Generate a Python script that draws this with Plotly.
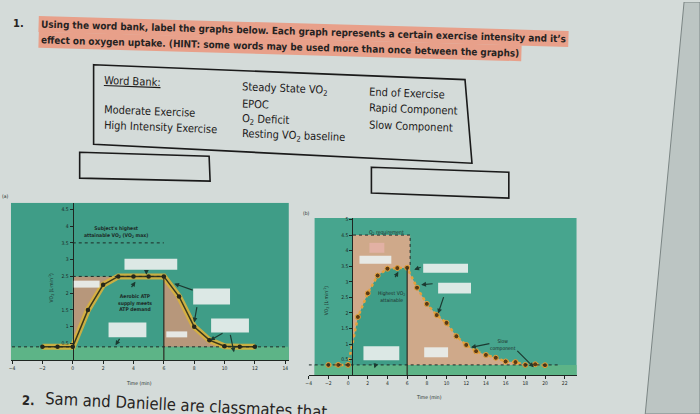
import plotly.graph_objects as go

# values read off the photographed worksheet
# (a) moderate exercise
time_a = [-2, -1, 0, 1, 2, 3, 4, 5, 6, 7, 8, 9, 10, 11, 12]
vo2_a = [0.4, 0.4, 0.4, 1.5, 2.25, 2.5, 2.5, 2.5, 2.5, 1.9, 1.0, 0.6, 0.42, 0.4, 0.4]
rest_a = 0.4
steady_a = 2.5
vo2max_a = 3.5
end_a = 6

# (b) high intensity exercise
time_b = list(range(-2, 21))
vo2_b = [0.33, 0.33, 0.33, 1.87, 2.63, 3.2, 3.42, 3.44, 3.45, 2.81, 2.29, 1.93, 1.68,
         1.25, 0.97, 0.77, 0.65, 0.56, 0.44, 0.42, 0.33, 0.35, 0.32]
rest_b = 0.33
o2_req_b = 4.5
end_b = 6

xticks_a = [-4, -2, 0, 2, 4, 6, 8, 10, 12, 14]
yticks_a = [0.5, 1, 1.5, 2, 2.5, 3, 3.5, 4, 4.5]
xticks_b = [-4, -2, 0, 2, 4, 6, 8, 10, 12, 14, 16, 18, 20, 22]
yticks_b = [0.5, 1, 1.5, 2, 2.5, 3, 3.5, 4, 4.5, 5]

question_1 = ["Using the word bank, label the graphs below. Each graph represents a certain exercise intensity and it\u2019s",
              "effect on oxygen uptake. (HINT: some words may be used more than once between the graphs)"]
bank_col1 = ["Moderate Exercise", "High Intensity Exercise"]
bank_col2 = ["Steady State VO<sub>2</sub>", "EPOC", "O<sub>2</sub> Deficit", "Resting VO<sub>2</sub> baseline"]
bank_col3 = ["End of Exercise", "Rapid Component", "Slow Component"]

PAPER = "#d4dbd9"
TEAL = "#3f9d87"
LIGHT = "#5db487"
TAN_A = "#b7977b"
TAN_B = "#cfa98a"
INK = "#1d2b27"
HAND = "DejaVu Sans Condensed, Liberation Sans, sans-serif"

W, H = 700, 414


def ydom(top_px, bottom_px):
    return [1 - bottom_px / H, 1 - top_px / H]


fig = go.Figure()

# ---------- chart (a) ----------
i_ss = time_a.index(3)
i_end = time_a.index(end_a)
fig.add_trace(go.Scatter(x=time_a[2:i_ss + 1], y=[steady_a] * (i_ss - 1), mode="lines",
                         line=dict(width=0), showlegend=False, hoverinfo="skip"))
fig.add_trace(go.Scatter(x=time_a[2:i_ss + 1], y=vo2_a[2:i_ss + 1], mode="lines", fill="tonexty",
                         fillcolor=TAN_A, line=dict(width=0), showlegend=False, hoverinfo="skip"))
fig.add_trace(go.Scatter(x=time_a[i_end:], y=[rest_a] * len(time_a[i_end:]), mode="lines",
                         line=dict(width=0), showlegend=False, hoverinfo="skip"))
fig.add_trace(go.Scatter(x=time_a[i_end:], y=vo2_a[i_end:], mode="lines", fill="tonexty",
                         fillcolor=TAN_A, line=dict(width=0), showlegend=False, hoverinfo="skip"))
fig.add_trace(go.Scatter(x=time_a, y=vo2_a, mode="lines", line=dict(color="#d9b23c", width=6),
                         opacity=0.9, showlegend=False))
fig.add_trace(go.Scatter(x=time_a, y=vo2_a, mode="lines+markers", line=dict(color="#3a381c", width=1.5),
                         marker=dict(color="#26261a", size=4.5), showlegend=False))

# ---------- chart (b) ----------
i_end_b = time_b.index(end_b)
i0 = time_b.index(0)
fig.add_trace(go.Scatter(x=time_b[i0:i_end_b + 1], y=[rest_b] * (i_end_b - i0 + 1), mode="lines",
                         line=dict(width=0), xaxis="x2", yaxis="y2", showlegend=False, hoverinfo="skip"))
fig.add_trace(go.Scatter(x=time_b[i0:i_end_b + 1], y=vo2_b[i0:i_end_b + 1], mode="lines", fill="tonexty",
                         fillcolor=TEAL, line=dict(width=0), xaxis="x2", yaxis="y2",
                         showlegend=False, hoverinfo="skip"))
fig.add_trace(go.Scatter(x=time_b[i_end_b:], y=[rest_b] * len(time_b[i_end_b:]), mode="lines",
                         line=dict(width=0), xaxis="x2", yaxis="y2", showlegend=False, hoverinfo="skip"))
fig.add_trace(go.Scatter(x=time_b[i_end_b:], y=vo2_b[i_end_b:], mode="lines", fill="tonexty",
                         fillcolor=TAN_B, line=dict(width=0), xaxis="x2", yaxis="y2",
                         showlegend=False, hoverinfo="skip"))
fig.add_trace(go.Scatter(x=time_b, y=vo2_b, mode="lines+markers", xaxis="x2", yaxis="y2",
                         line=dict(color="#e6a23c", width=2.5, dash="dot"),
                         marker=dict(color="#5a3a14", size=5, line=dict(color="#e6a23c", width=1)),
                         showlegend=False))

# empty trace so the full page pixel axes exist
fig.add_trace(go.Scatter(x=[None], y=[None], xaxis="x3", yaxis="y3", showlegend=False))

shapes = []
# panel backgrounds
shapes += [
    dict(type="rect", xref="x", yref="y", x0=-4.1, x1=14.3, y0=0, y1=4.7, fillcolor=TEAL,
         line=dict(width=0), layer="below"),
    dict(type="rect", xref="x", yref="y", x0=-4.1, x1=14.3, y0=0, y1=rest_a, fillcolor=LIGHT,
         line=dict(width=0), layer="below"),
    dict(type="rect", xref="x2", yref="y2", x0=-3.4, x1=23.3, y0=0, y1=5.1, fillcolor="#47a58e",
         line=dict(width=0), layer="below"),
    dict(type="rect", xref="x2", yref="y2", x0=-3.4, x1=23.3, y0=0, y1=rest_b, fillcolor=LIGHT,
         line=dict(width=0), layer="below"),
    dict(type="rect", xref="x2", yref="y2", x0=0.5, x1=end_b + 0.3, y0=rest_b, y1=o2_req_b,
         fillcolor=TAN_B, line=dict(width=0), layer="below"),
]
dash_line = dict(color=INK, width=1, dash="dot")
shapes += [
    dict(type="line", xref="x", yref="y", x0=0, x1=end_a, y0=vo2max_a, y1=vo2max_a, line=dash_line),
    dict(type="line", xref="x", yref="y", x0=0, x1=end_a, y0=steady_a, y1=steady_a, line=dash_line),
    dict(type="line", xref="x", yref="y", x0=-4, x1=14, y0=rest_a, y1=rest_a, line=dash_line),
    dict(type="line", xref="x", yref="y", x0=end_a, x1=end_a, y0=0, y1=steady_a,
         line=dict(color="#2b2b22", width=1.2)),
    dict(type="line", xref="x2", yref="y2", x0=-4, x1=21.5, y0=rest_b, y1=rest_b, line=dash_line),
    dict(type="path", xref="x2", yref="y2",
         path=f"M 0.5 {o2_req_b} L {end_b + 0.3} {o2_req_b} L {end_b + 0.3} 3.5", line=dash_line),
    dict(type="line", xref="x2", yref="y2", x0=end_b, x1=end_b, y0=0, y1=max(vo2_b),
         line=dict(color="#2b2b22", width=1.2)),
]


def poly(pts, **kw):
    p = "M " + " L ".join(f"{x} {y}" for x, y in pts) + " Z"
    return dict(type="path", xref="x3", yref="y3", path=p, **kw)


# page edge on the right
shapes.append(poly([(684, 0), (700, 0), (700, 414), (645, 414)], fillcolor="#bcc5c3",
                   line=dict(color="#7b8584", width=1), layer="below"))
# word bank frame and the two answer boxes
shapes.append(poly([(91, 63), (464, 78), (471, 162), (91, 143)], line=dict(color="#1a1a1a", width=1.6)))
shapes.append(poly([(77, 151), (207, 155), (208, 180), (77, 177)], line=dict(color="#1a1a1a", width=1.6)))
shapes.append(poly([(370, 166), (508, 171), (508, 197), (370, 192)], line=dict(color="#1a1a1a", width=1.6)))

# blank label boxes printed on the graphs
for x0, y0, x1, y1 in [(122, 258, 175, 269), (71, 280, 97, 287), (106, 322, 144, 337),
                       (191, 288, 228, 304), (209, 318, 247, 332), (164, 331, 185, 337),
                       (358, 255, 390, 263), (422, 263, 467, 272), (437, 282, 470, 293),
                       (362, 346, 398, 360), (423, 347, 447, 357)]:
    shapes.append(dict(type="rect", xref="x3", yref="y3", x0=x0, x1=x1, y0=y0, y1=y1,
                       fillcolor="#e9efed", opacity=0.92, line=dict(width=0)))
shapes.append(dict(type="rect", xref="x3", yref="y3", x0=368, x1=383, y0=242, y1=252,
                   fillcolor="#e2b1a4", line=dict(width=0)))

ann = []


def txt(x, y, s, size=11, angle=0, color="#262322", bold=False, **kw):
    ann.append(dict(x=x, y=y, xref="x3", yref="y3", text=f"<b>{s}</b>" if bold else s,
                    showarrow=False, textangle=angle,
                    font=dict(family=HAND, size=size, color=color), **kw))


txt(16, 22, "1.", size=11, bold=True)
txt(35, 30, question_1[0], size=9.9, angle=1.6, bold=True, bgcolor="#e8a08a", borderpad=2, xanchor="left")
txt(35, 45, question_1[1], size=9.9, angle=1.6, bold=True, bgcolor="#e8a08a", borderpad=2, xanchor="left")

txt(99, 80, "<u>Word Bank:</u>", size=11, angle=2.2, xanchor="left", color="#1c1a1a")
for i, s in enumerate(bank_col1):
    txt(99, 110 + 16 * i, s, size=11, angle=2.2, xanchor="left", color="#1c1a1a")
for i, s in enumerate(bank_col2):
    txt(238, 87 + 16 * i, s, size=11, angle=2.2, xanchor="left", color="#1c1a1a")
for i, s in enumerate(bank_col3):
    txt(365, 92 + 16.5 * i, s, size=11, angle=2.2, xanchor="left", color="#1c1a1a")

txt(26, 400, "2.", size=13, angle=2.3, bold=True)
txt(40, 405, "Sam and Danielle are classmates that", size=16.5, angle=2.8, xanchor="left")

small = dict(size=5, color=INK)
txt(3, 195, "(a)", **small)
txt(305, 212, "(b)", **small)
txt(113, 231, "Subject's highest<br>attainable VO<sub>2</sub> (VO<sub>2</sub> max)", bold=True, **small)
txt(133, 302, "Aerobic ATP<br>supply meets<br>ATP demand", bold=True, **small)
txt(137, 383, "Time (min)", **small)
txt(49, 287, "VO<sub>2</sub> (L\u00b7min<sup>-1</sup>)", angle=-90, **small)
txt(385, 232, "O<sub>2</sub> requirement", **small)
txt(390, 296, "Highest VO<sub>2</sub><br>attainable", **small)
txt(502, 345, "Slow<br>component", **small)
txt(428, 397, "Time (min)", **small)
txt(325, 300, "VO<sub>2</sub> (L\u00b7min<sup>-1</sup>)", angle=-90, **small)

# little pointer arrows printed on the graphs (tail, head) in page pixels
for (tx, ty), (hx, hy) in [((144, 268), (144, 274)), ((128, 288), (133, 281)), ((192, 290), (172, 283)),
                           ((195, 305), (192, 322)), ((222, 332), (208, 340)), ((228, 333), (232, 352)),
                           ((118, 337), (113, 345)), ((421, 266), (413, 269)), ((433, 283), (420, 284)),
                           ((443, 295), (437, 313)), ((393, 278), (397, 271)), ((490, 343), (470, 347)),
                           ((515, 349), (533, 367)), ((375, 362), (373, 368))]:
    ann.append(dict(x=hx, y=hy, xref="x3", yref="y3", ax=tx, ay=ty, axref="x3", ayref="y3",
                    text="", showarrow=True, arrowhead=2, arrowsize=0.8, arrowwidth=1.2,
                    arrowcolor="#1c3a31"))

axis_common = dict(showline=True, linecolor="#1f2622", linewidth=1.2, ticks="outside",
                   ticklen=3, tickcolor="#1f2622", showgrid=False, zeroline=False,
                   tickfont=dict(family=HAND, size=5, color=INK), fixedrange=True)

fig.update_layout(
    width=W, height=H,
    margin=dict(l=0, r=0, t=0, b=0),
    paper_bgcolor=PAPER,
    plot_bgcolor="rgba(0,0,0,0)",
    showlegend=False,
    xaxis=dict(domain=[8 / W, 287 / W], range=[-4.07, 14.23], anchor="y", tickvals=xticks_a, **axis_common),
    yaxis=dict(domain=ydom(201.6, 360), range=[0, 4.7], anchor="free", position=70 / W,
               tickvals=yticks_a, **axis_common),
    xaxis2=dict(domain=[307 / W, 576 / W], range=[-4, 23.2], anchor="y2", tickvals=xticks_b, **axis_common),
    yaxis2=dict(domain=ydom(217, 375), range=[0, 5.05], anchor="free", position=351 / W,
                tickvals=yticks_b, **axis_common),
    xaxis3=dict(domain=[0, 1], range=[0, W], visible=False, fixedrange=True),
    yaxis3=dict(domain=[0, 1], range=[H, 0], visible=False, fixedrange=True, anchor="x3"),
    shapes=shapes,
    annotations=ann,
)

# the page's default body margin would shift the figure by 8px
fig.write_html("out.html", config={"displayModeBar": False},
               post_script="document.body.style.margin='0';")
